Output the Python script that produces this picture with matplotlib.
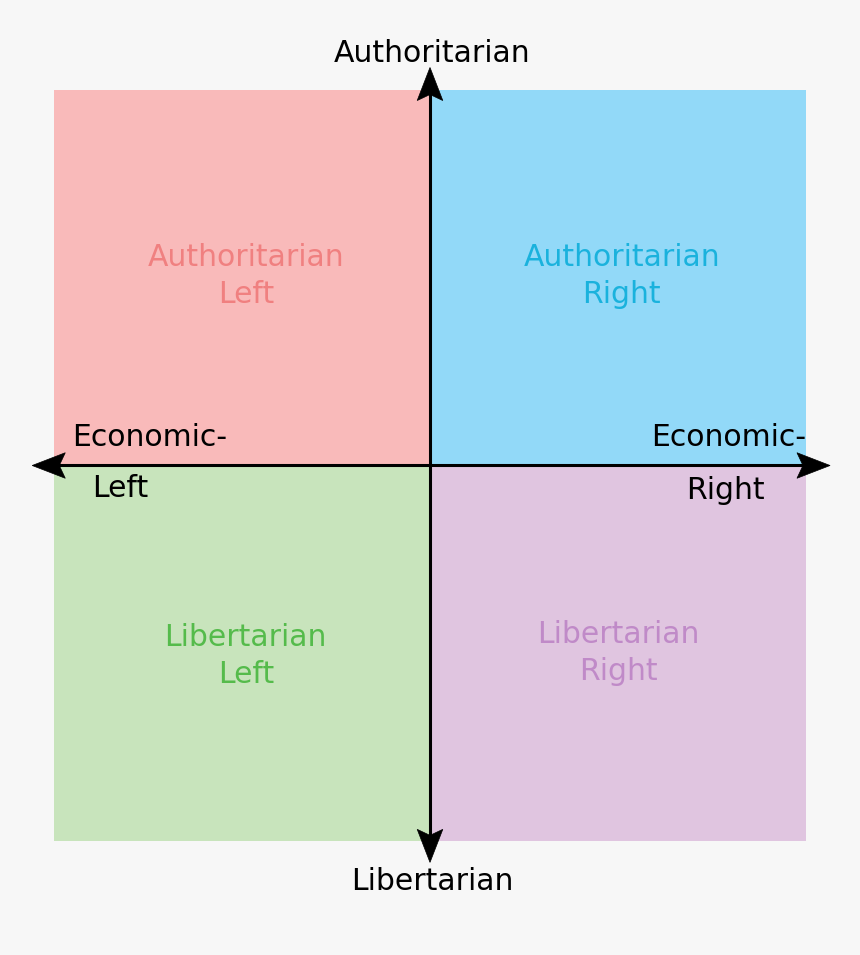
import matplotlib
matplotlib.use("Agg")
import matplotlib.pyplot as plt
from matplotlib.patches import Rectangle, Polygon

# quadrant data
quad_names = ["Authoritarian\nLeft", "Authoritarian\nRight", "Libertarian\nLeft", "Libertarian\nRight"]
quad_x = [-1, 0, -1, 0]
quad_y = [0, 0, -1, -1]
quad_fill = ["#f9baba", "#92d9f8", "#c8e4bc", "#e0c5e0"]
quad_text = ["#f08080", "#1ab2dd", "#55bb4b", "#c08ac8"]
label_pos = [(-0.49, 0.505), (0.51, 0.505), (-0.49, -0.507), (0.50, -0.499)]

axis_top = "Authoritarian"
axis_bottom = "Libertarian"

FS = 21.5

fig = plt.figure(figsize=(8.6, 9.55), dpi=100, facecolor="#f7f7f7")
ax = fig.add_axes([54 / 860, (955 - 841) / 955, 752 / 860, 751 / 955])
ax.set_xlim(-1, 1)
ax.set_ylim(-1, 1)
ax.axis("off")

for qx, qy, fc in zip(quad_x, quad_y, quad_fill):
    ax.add_patch(Rectangle((qx, qy), 1, 1, facecolor=fc, edgecolor="none"))

for name, tc, (lx, ly) in zip(quad_names, quad_text, label_pos):
    ax.text(lx, ly, name, color=tc, fontsize=FS, ha="center", va="center",
            linespacing=1.33)


def head(tip, direction):
    # stealth style arrow head, direction as unit vector
    dx, dy = direction
    L, W, N = 0.088, 0.034, 0.072
    tx, ty = tip
    bx, by = tx - dx * L, ty - dy * L
    nx, ny = tx - dx * N, ty - dy * N
    px, py = -dy, dx
    pts = [(tx, ty), (bx + px * W, by + py * W), (nx, ny), (bx - px * W, by - py * W)]
    ax.add_patch(Polygon(pts, closed=True, facecolor="black", edgecolor="black",
                         lw=0.5, clip_on=False, zorder=4))


ax.plot([-1.0, 1.0], [0, 0], color="black", lw=2.2, clip_on=False, zorder=3)
ax.plot([0, 0], [-1.0, 1.0], color="black", lw=2.2, clip_on=False, zorder=3)
head((-1.058, 0), (-1, 0))
head((1.064, 0), (1, 0))
head((0, 1.06), (0, 1))
head((0, -1.057), (0, -1))

ax.text(0.005, 1.097, axis_top, fontsize=FS, ha="center", va="center")
ax.text(0.005, -1.107, axis_bottom, fontsize=FS, ha="center", va="center")
ax.text(-0.952, 0.075, "Economic-", fontsize=FS, ha="left", va="center")
ax.text(-0.825, -0.062, "Left", fontsize=FS, ha="center", va="center")
ax.text(1.0, 0.075, "Economic-", fontsize=FS, ha="right", va="center")
ax.text(0.785, -0.067, "Right", fontsize=FS, ha="center", va="center")

fig.savefig("out.png", dpi=100, facecolor="#f7f7f7")
